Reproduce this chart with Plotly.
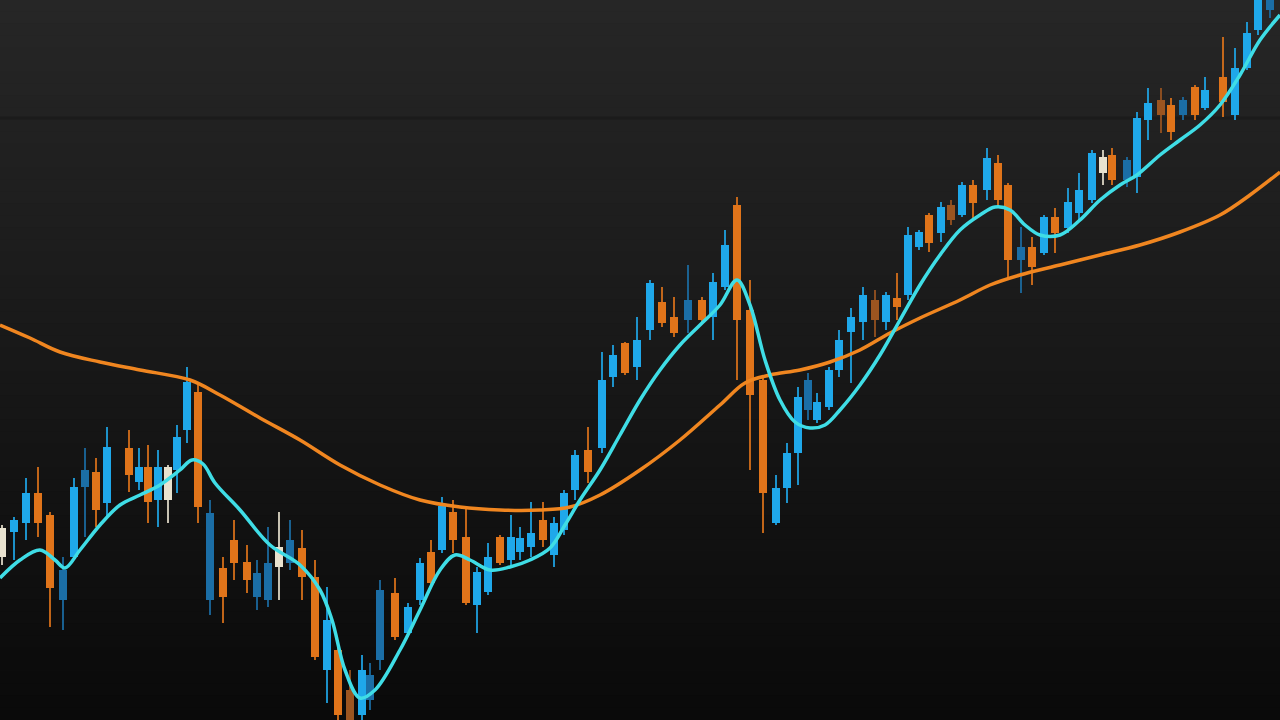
import numpy as np
import plotly.graph_objects as go

# ---- candle data (x position, tone, open, high, low, close) ----
cx = [2, 14, 26, 38, 50, 63, 74, 85, 96, 107, 129, 139, 148, 158, 168, 177, 187, 198,
      210, 223, 234, 247, 257, 268, 279, 290, 302, 315, 327, 338, 350, 362, 370, 380,
      395, 408, 420, 431, 442, 453, 466, 477, 488, 500, 511, 520, 531, 543, 554, 564,
      575, 588, 602, 613, 625, 637, 650, 662, 674, 688, 702, 713, 725, 737, 750, 763,
      776, 787, 798, 808, 817, 829, 839, 851, 863, 875, 886, 897, 908, 919, 929, 941,
      951, 962, 973, 987, 998, 1008, 1021, 1032, 1044, 1055, 1068, 1079, 1092, 1103,
      1112, 1127, 1137, 1148, 1161, 1171, 1183, 1195, 1205, 1223, 1235, 1247, 1258, 1270]
tone = ["p", "b", "b", "o", "o", "d", "b", "d", "o", "b", "o", "b", "o", "b", "p", "b", "b", "o",
        "d", "o", "o", "o", "d", "d", "p", "d", "o", "o", "b", "o", "q", "b", "d", "d",
        "o", "b", "b", "o", "b", "o", "o", "b", "b", "o", "b", "b", "b", "o", "b", "b",
        "b", "o", "b", "b", "o", "b", "b", "o", "o", "d", "o", "b", "b", "o", "o", "o",
        "b", "b", "b", "d", "b", "b", "b", "b", "b", "q", "b", "o", "b", "b", "o", "b",
        "q", "b", "o", "b", "o", "o", "d", "o", "b", "o", "b", "b", "b", "p",
        "o", "d", "b", "b", "q", "o", "d", "o", "b", "o", "b", "b", "b", "d"]
opens = [163, 188, 197, 227, 205, 120, 163, 233, 248, 217, 272, 238, 253, 220, 220, 250, 290, 328,
         120, 152, 180, 158, 123, 120, 153, 157, 172, 143, 50, 70, 30, 5, 20, 60,
         127, 87, 120, 168, 170, 208, 183, 115, 128, 183, 160, 168, 173, 200, 165, 190,
         230, 270, 272, 343, 377, 353, 390, 418, 403, 400, 420, 403, 433, 515, 410, 340,
         197, 232, 267, 310, 300, 313, 350, 388, 398, 420, 398, 422, 425, 473, 505, 487,
         515, 505, 535, 530, 557, 535, 460, 473, 467, 503, 492, 507, 520, 547,
         565, 540, 543, 600, 620, 615, 605, 633, 612, 643, 605, 652, 690, 710]
highs = [195, 203, 242, 253, 208, 163, 242, 272, 262, 293, 290, 272, 275, 270, 255, 295, 353, 335,
         220, 163, 200, 175, 160, 193, 208, 200, 190, 160, 133, 80, 50, 65, 57, 140,
         142, 117, 162, 180, 223, 220, 212, 153, 177, 185, 205, 193, 218, 218, 203, 230,
         270, 293, 368, 375, 378, 403, 440, 433, 423, 455, 423, 447, 490, 523, 440, 345,
         245, 277, 333, 347, 327, 353, 390, 412, 433, 430, 428, 447, 493, 490, 507, 518,
         520, 538, 540, 572, 565, 537, 493, 483, 505, 512, 532, 547, 570, 570,
         572, 563, 608, 632, 632, 622, 623, 635, 643, 683, 672, 698, 730, 730]
lows = [155, 160, 180, 183, 93, 90, 160, 183, 193, 203, 228, 230, 197, 193, 197, 227, 277, 197,
        105, 97, 140, 127, 110, 113, 120, 150, 120, 60, 17, 0, 0, 0, 10, 50,
        80, 83, 115, 133, 167, 167, 115, 87, 125, 155, 153, 160, 163, 173, 153, 185,
        220, 237, 267, 333, 345, 340, 380, 393, 383, 387, 397, 380, 430, 340, 250, 187,
        195, 217, 235, 300, 297, 310, 343, 337, 380, 383, 390, 400, 420, 470, 468, 478,
        495, 503, 500, 520, 513, 443, 427, 435, 465, 467, 487, 500, 517, 535,
        535, 533, 527, 580, 587, 580, 600, 600, 610, 603, 600, 650, 685, 702]
closes = [192, 200, 227, 197, 132, 150, 233, 250, 210, 273, 245, 253, 218, 253, 253, 283, 338, 213,
          207, 123, 157, 140, 147, 157, 173, 180, 143, 63, 100, 5, 0, 50, 45, 130,
          83, 113, 157, 137, 214, 180, 117, 148, 163, 157, 183, 182, 187, 180, 197, 227,
          265, 248, 340, 365, 347, 380, 437, 397, 387, 420, 400, 438, 475, 400, 325, 227,
          232, 267, 323, 340, 318, 350, 380, 403, 425, 400, 425, 413, 485, 488, 477, 513,
          500, 535, 517, 562, 520, 460, 473, 453, 503, 487, 518, 530, 567, 563,
          540, 560, 602, 617, 605, 588, 620, 605, 630, 618, 652, 687, 720, 720]

# ---- moving averages ----
fast_x = [0, 20, 40, 55, 65, 80, 100, 120, 140, 160, 180, 192, 203, 215, 240, 270, 300, 320, 332,
          345, 360, 375, 400, 420, 440, 455, 470, 490, 510, 530, 550, 565, 580, 600, 620, 640,
          660, 680, 700, 720, 737, 750, 765, 780, 795, 810, 825, 840, 860, 880, 900, 920, 940,
          960, 980, 995, 1010, 1025, 1040, 1060, 1080, 1100, 1120, 1137, 1160, 1180, 1200,
          1220, 1240, 1260, 1280]
fast_ma = [142, 160, 170, 160, 152, 170, 195, 215, 225, 235, 250, 260, 256, 237, 210, 175, 155, 130, 100,
           50, 22, 30, 70, 110, 150, 165, 160, 150, 153, 160, 172, 195, 220, 250, 285, 320,
           350, 375, 395, 415, 440, 415, 360, 320, 298, 292, 295, 310, 335, 365, 400, 435, 465,
           490, 505, 513, 510, 495, 485, 485, 500, 520, 535, 545, 565, 580, 595,
           615, 645, 680, 705]
slow_x = [0, 30, 60, 100, 140, 190, 220, 260, 300, 340, 380, 420, 460, 500, 540, 570, 600, 640,
          680, 720, 745, 770, 800, 830, 860, 890, 920, 960, 990, 1020, 1060, 1100, 1140,
          1180, 1220, 1250, 1280]
slow_ma = [395, 382, 368, 358, 350, 340, 325, 302, 280, 255, 235, 220, 213, 210, 210, 213, 225, 250,
           280, 315, 337, 345, 350, 358, 370, 387, 402, 420, 435, 445, 455, 465, 475,
           488, 505, 525, 548]

tone_colors = {"b": "#1fa8ea", "d": "#1b6ea6", "o": "#e0741a", "q": "#9c5520", "p": "#e8e2cf"}

cx_a = np.array(cx, dtype=float)
o_a, h_a, l_a, c_a = (np.array(v, dtype=float) for v in (opens, highs, lows, closes))
tone_a = np.array(tone)

fig = go.Figure()

# background gradient strips
n = 60
top = np.array([0x27, 0x27, 0x27])
bot = np.array([0x0a, 0x0a, 0x0a])
for i in range(n):
    t = (i + 0.5) / n
    col = (top * (1 - t) + bot * t).astype(int)
    fig.add_shape(type="rect", xref="paper", yref="paper", x0=0, x1=1,
                  y0=1 - (i + 1) / n - 0.001, y1=1 - i / n + 0.001,
                  fillcolor="rgb(%d,%d,%d)" % tuple(col), line_width=0, layer="below")
fig.add_shape(type="line", xref="paper", yref="y", x0=0, x1=1, y0=602, y1=602,
              line=dict(color="#1b1b1b", width=3), layer="below")

for tk in ["d", "q", "p", "o", "b"]:
    m = tone_a == tk
    if not m.any():
        continue
    col = tone_colors[tk]
    fig.add_trace(go.Bar(x=cx_a[m], y=h_a[m] - l_a[m], base=l_a[m], width=1.8,
                         marker=dict(color=col, line_width=0), opacity=0.85,
                         hoverinfo="skip", showlegend=False))
    lo = np.minimum(o_a[m], c_a[m])
    hi = np.maximum(o_a[m], c_a[m])
    fig.add_trace(go.Bar(x=cx_a[m], y=np.maximum(hi - lo, 2), base=lo, width=8,
                         marker=dict(color=col, line_width=0),
                         hoverinfo="skip", showlegend=False))

fig.add_trace(go.Scatter(x=slow_x, y=slow_ma, mode="lines", line=dict(color="#f08620", width=3.5, shape="spline"),
                         hoverinfo="skip", showlegend=False))
fig.add_trace(go.Scatter(x=fast_x, y=fast_ma, mode="lines", line=dict(color="#3fdde6", width=3.5, shape="spline"),
                         hoverinfo="skip", showlegend=False))

fig.update_layout(
    width=1280, height=720, margin=dict(l=0, r=0, t=0, b=0),
    paper_bgcolor="#151515", plot_bgcolor="rgba(0,0,0,0)",
    barmode="overlay", bargap=0,
    xaxis=dict(range=[0, 1280], visible=False, fixedrange=True),
    yaxis=dict(range=[0, 720], visible=False, fixedrange=True),
)

fig.write_html("out.html", config={"displayModeBar": False},
               post_script="document.body.style.margin='0';document.body.style.overflow='hidden';"
                           "document.body.style.background='#151515';")
